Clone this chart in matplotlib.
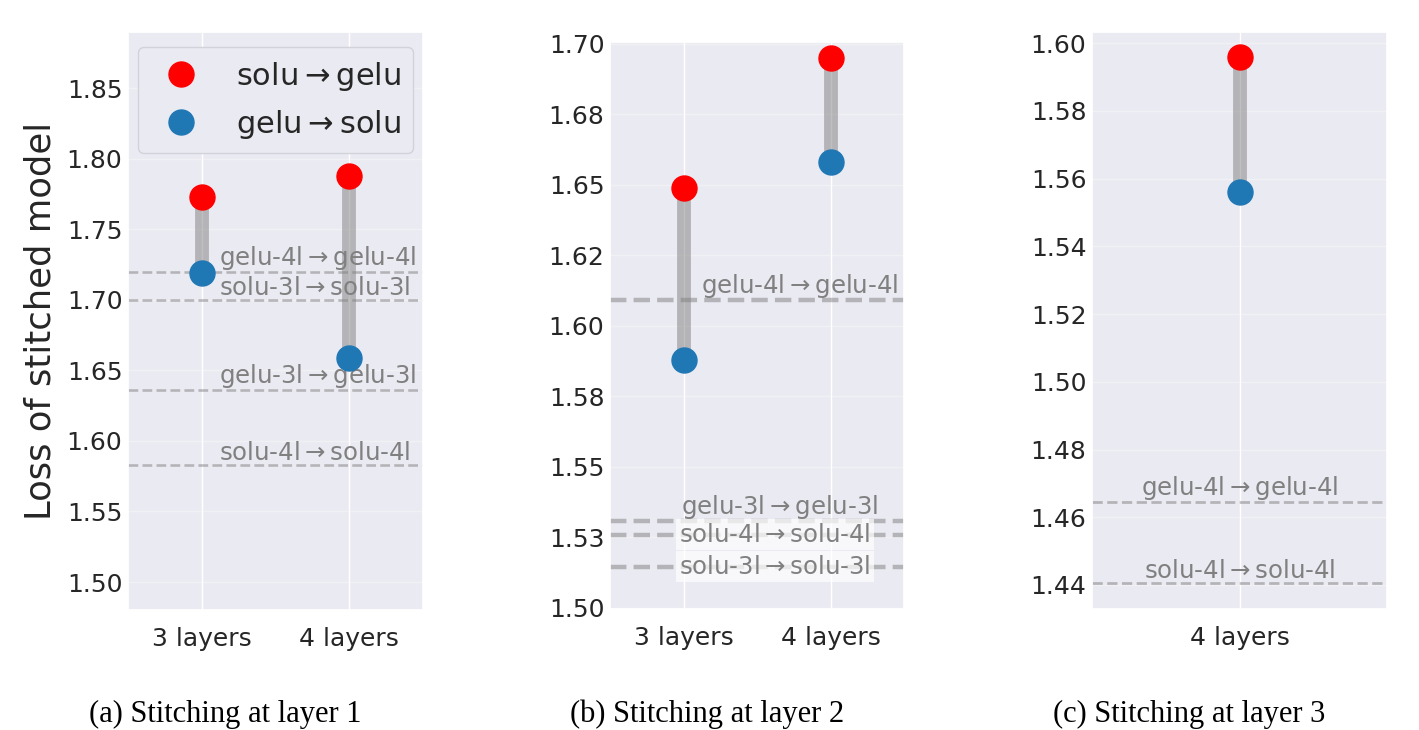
import matplotlib
matplotlib.use("Agg")
import matplotlib.pyplot as plt
import seaborn as sns
import numpy as np

sns.set_theme(style="darkgrid")
plt.rcParams['font.family'] = ['DejaVu Sans']

# ---------------- data ----------------
layers_ab = ['3 layers', '4 layers']
layers_c = ['4 layers']

a_solu_gelu = [1.773, 1.788]
a_gelu_solu = [1.719, 1.659]
b_solu_gelu = [1.649, 1.695]
b_gelu_solu = [1.588, 1.658]
c_solu_gelu = [1.596]
c_gelu_solu = [1.556]

a_base_names = ['gelu-4l', 'solu-3l', 'gelu-3l', 'solu-4l']
a_base_vals = [1.7196, 1.6998, 1.636, 1.583]
b_base_names = ['gelu-4l', 'gelu-3l', 'solu-4l', 'solu-3l']
b_base_vals = [1.609, 1.5308, 1.5258, 1.5145]
c_base_names = ['gelu-4l', 'solu-4l']
c_base_vals = [1.4646, 1.4406]

a_ticks = [1.50, 1.55, 1.60, 1.65, 1.70, 1.75, 1.80, 1.85]
a_ticklabels = ['1.50', '1.55', '1.60', '1.65', '1.70', '1.75', '1.80', '1.85']
b_ticks = [1.500, 1.525, 1.550, 1.575, 1.600, 1.625, 1.650, 1.675, 1.700]
b_ticklabels = ['1.50', '1.53', '1.55', '1.58', '1.60', '1.62', '1.65', '1.68', '1.70']
c_ticks = [1.44, 1.46, 1.48, 1.50, 1.52, 1.54, 1.56, 1.58, 1.60]
c_ticklabels = ['1.44', '1.46', '1.48', '1.50', '1.52', '1.54', '1.56', '1.58', '1.60']

captions = ['(a) Stitching at layer 1', '(b) Stitching at layer 2', '(c) Stitching at layer 3']

# ---------------- layout / style ----------------
W, H = 1419, 730
fig = plt.figure(figsize=(W / 100, H / 100), dpi=100)

def px_axes(l, r, t, b):
    return fig.add_axes([l / W, 1 - b / H, (r - l) / W, (b - t) / H])

ax_a = px_axes(128, 423, 32, 610)
ax_b = px_axes(610, 904, 42, 609)
ax_c = px_axes(1092, 1387, 32, 609)

RED = '#ff0000'
BLUE = '#1f77b4'
TICK_FS = 18
LBL_FS = 17.6
MS = 18

def arrow_label(name):
    return name + r'$\rightarrow$' + name

def draw_panel(ax, cats, top, bot, base_names, base_vals, base_lw,
               label_pos, ticks, ticklabels, ylim, xlim, boxed=()):
    x = np.arange(len(cats))
    for xi, t, b in zip(x, top, bot):
        ax.plot([xi, xi], [b, t], color='gray', alpha=0.5, lw=10,
                solid_capstyle='butt', zorder=2)
    ax.plot(x, top, 'o', color=RED, ms=MS, zorder=4, label=r'solu$\rightarrow$gelu')
    ax.plot(x, bot, 'o', color=BLUE, ms=MS, zorder=4, label=r'gelu$\rightarrow$solu')
    for name, v, (lx, ha, va) in zip(base_names, base_vals, label_pos):
        ax.axhline(v, color='gray', alpha=0.5, lw=base_lw, ls='--', zorder=1)
        kw = {}
        if name in boxed:
            kw['bbox'] = dict(boxstyle='square,pad=0.14', facecolor='white',
                              edgecolor='none', alpha=0.7)
        ax.text(lx, v, arrow_label(name), color='gray', fontsize=LBL_FS,
                ha=ha, va=va, zorder=3, **kw)
    ax.set_xticks(x)
    ax.set_xticklabels(cats, fontsize=TICK_FS)
    ax.set_yticks(ticks)
    ax.set_yticklabels(ticklabels, fontsize=TICK_FS)
    ax.set_ylim(*ylim)
    ax.set_xlim(*xlim)
    ax.tick_params(axis='x', pad=12, length=0)
    ax.tick_params(axis='y', pad=4, length=0)
    ax.grid(axis='y', alpha=0.3)
    ax.grid(axis='x', alpha=1.0)

draw_panel(ax_a, layers_ab, a_solu_gelu, a_gelu_solu, a_base_names, a_base_vals, 1.9,
           [(0.12, 'left', 'bottom')] * 4, a_ticks, a_ticklabels,
           (1.4802, 1.8897), (-0.5, 1.5))
draw_panel(ax_b, layers_ab, b_solu_gelu, b_gelu_solu, b_base_names, b_base_vals, 3.2,
           [(0.12, 'left', 'bottom'), (-0.02, 'left', 'bottom'),
            (-0.03, 'left', 'center'), (-0.03, 'left', 'center')],
           b_ticks, b_ticklabels, (1.4995, 1.7007), (-0.5, 1.5),
           boxed=('solu-4l', 'solu-3l'))
draw_panel(ax_c, layers_c, c_solu_gelu, c_gelu_solu, c_base_names, c_base_vals, 2.0,
           [(0.0, 'center', 'bottom')] * 2, c_ticks, c_ticklabels,
           (1.4329, 1.6033), (-0.5, 0.5))

ax_a.set_ylabel('Loss of stitched model', fontsize=25.5)
ax_a.yaxis.set_label_coords(-0.24, 0.5)

leg = ax_a.legend(loc='upper center', fontsize=22, frameon=True,
                  facecolor='#eaeaf2', edgecolor='#d2d2da', framealpha=1.0)

cap_x = [225, 707, 1189]
for cx, cap in zip(cap_x, captions):
    fig.text(cx / W, 1 - 714 / H, cap, ha='center', va='center',
             fontsize=22, family='Liberation Serif', color='black')

fig.savefig('out.png', dpi=100, facecolor='white')
